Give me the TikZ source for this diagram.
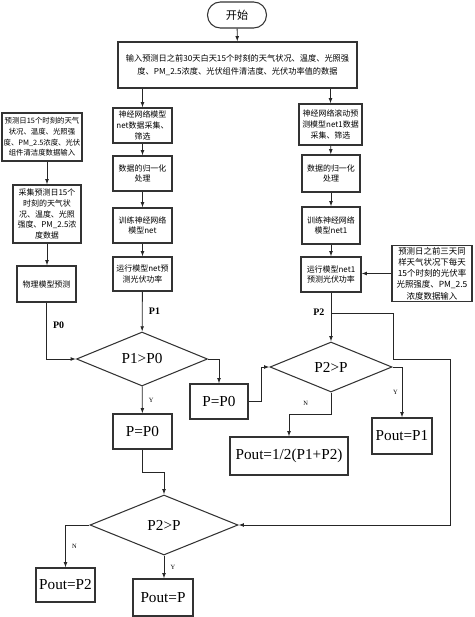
\documentclass[tikz,border=0pt]{standalone}
\usepackage{fontspec}
\setmainfont{Liberation Serif}
\newfontfamily\cjk{Noto Sans CJK SC}
\usetikzlibrary{arrows.meta,shapes.geometric}
\tikzset{
    box/.style={draw=black!80, line width=0.9pt, align=center, inner sep=1pt, font=\cjk\fontsize{6.8}{9.2}\selectfont},
    outbox/.style={draw=black!80, line width=0.9pt, inner sep=1pt, font=\fontsize{13}{15}\selectfont},
    dec/.style={diamond, draw=black!80, line width=0.9pt, inner sep=0pt, font=\fontsize{13}{15}\selectfont},
    plbl/.style={font=\bfseries\fontsize{8.5}{10}\selectfont},
    yn/.style={font=\fontsize{5.5}{6}\selectfont},
}

\begin{document}
\begin{tikzpicture}[x=0.03cm, y=-0.03cm, >={Latex[length=4.5pt,width=3.2pt]}, line width=0.7pt, draw=black!85]
                \useasboundingbox (0,0) rectangle (474,617);

                \node[draw=black!80, line width=0.9pt, rounded corners=11pt, minimum width=1.77cm, minimum height=0.78cm, font=\cjk\fontsize{9.5}{11}\selectfont] (start) at (237,15) {开始};
                \node[box, minimum width=7.17cm, minimum height=1.38cm, font=\cjk\fontsize{7}{10.5}\selectfont] (input) at (237.5,65) {输入预测日之前30天白天15个时刻的天气状况、温度、光照强\\度、PM\_2.5浓度、光伏组件清洁度、光伏功率值的数据};

                \node[box, minimum width=1.77cm, minimum height=1.05cm] (nA1) at (142.5,125.5) {神经网络模型\\net数据采集、\\筛选};
                \node[box, minimum width=1.77cm, minimum height=1.05cm] (nA2) at (142.5,173.5) {数据的归一化\\处理};
                \node[box, minimum width=1.77cm, minimum height=1.05cm] (nA3) at (142.5,225.5) {训练神经网络\\模型net};
                \node[box, minimum width=1.77cm, minimum height=1.02cm] (nA4) at (142.5,274) {运行模型net预\\测光伏功率};

                \node[box, minimum width=1.89cm, minimum height=1.23cm] (nB1) at (330.5,124.5) {神经网络滚动预\\测模型net1数据\\采集、筛选};
                \node[box, minimum width=1.74cm, minimum height=1.11cm] (nB2) at (331,173.5) {数据的归一化\\处理};
                \node[box, minimum width=1.74cm, minimum height=1.11cm] (nB3) at (331,225.5) {训练神经网络\\模型net1};
                \node[box, minimum width=1.8cm, minimum height=1.05cm] (nB4) at (331,274.5) {运行模型net1\\预测光伏功率};
                \node[box, minimum width=2.4cm, minimum height=1.59cm, font=\cjk\fontsize{7.2}{9.6}\selectfont] (inR) at (432,273.5) {预测日之前三天同\\样天气状况下每天\\15个时刻的光伏率\\光照强度、PM\_2.5\\浓度数据输入};

                \node[box, minimum width=2.4cm, minimum height=1.44cm, font=\cjk\fontsize{6.3}{9}\selectfont] (inL1) at (42,137) {预测日15个时刻的天气\\状况、温度、光照强\\度、PM\_2.5浓度、光伏\\组件清洁度数据输入};
                \node[box, minimum width=2.04cm, minimum height=1.74cm] (inL2) at (47,214) {采集预测日15个\\时刻的天气状\\况、温度、光照\\强度、PM\_2.5浓\\度数据};
                \node[box, minimum width=1.77cm, minimum height=1.08cm] (inL3) at (46.5,284) {物理模型预测};

                \node[dec, minimum width=3.93cm, minimum height=1.62cm] (d1) at (142,359) {P1>P0};
                \node[outbox, minimum width=1.74cm, minimum height=1.05cm] (p0R) at (219,401.5) {P=P0};
                \node[outbox, minimum width=1.77cm, minimum height=1.05cm] (p0L) at (142.5,431.5) {P=P0};
                \node[dec, minimum width=3.66cm, minimum height=1.5cm] (d3) at (331,367) {P2>P};
                \node[outbox, minimum width=1.8cm, minimum height=1.08cm] (outP1) at (402,436) {Pout=P1};
                \node[outbox, minimum width=3.54cm, minimum height=1.14cm] (outAvg) at (289,456) {Pout=1/2(P1+P2)};
                \node[dec, minimum width=4.44cm, minimum height=1.8cm] (d2) at (164,525) {P2>P};
                \node[outbox, minimum width=1.77cm, minimum height=1.02cm] (outP2) at (65.5,585) {Pout=P2};
                \node[outbox, minimum width=1.8cm, minimum height=1.11cm] (outP) at (163,597.5) {Pout=P};

                \coordinate (b2) at (331,313);

                \draw[->] (start) -- (input);
                \draw[->] (input.south -| nA1) -- (nA1);
                \draw[->] (input.south -| nB1) -- (nB1);
                \draw[->] (nA1) -- (nA2);
                \draw[->] (nA2) -- (nA3);
                \draw[->] (nA3) -- (nA4);
                \draw[->] (nB1) -- (nB2);
                \draw[->] (nB2) -- (nB3);
                \draw[->] (nB3) -- (nB4);
                \draw[->] (inR) -- (inR -| nB4.east);
                \draw[->] (inL1.south -| inL2) -- (inL2);
                \draw[->] (inL2) -- (inL2 |- inL3.north);

                \draw[->] (inL3) |- (d1.west) node[pos=0.2, right, plbl, xshift=2pt]{P0};
                \draw[->] (nA4) -- (d1) node[pos=0.5, right, plbl, xshift=2pt]{P1};
                \draw[->] (nB4) -- (d3) node[pos=0.4, left, plbl, xshift=-2pt]{P2};
                \draw[->] (b2) -- ++(62,0) |- (450,359) |- (d2.east);

                \draw[->] (d1) -- (p0L) node[midway, right, yn, xshift=2pt]{Y};
                \draw[->] (d1.east) -| (p0R);
                \draw[->] (p0R.east) -- ++(13,0) |- (d3.west);
                \draw[->] (d3.east) -| (outP1) node[pos=0.75, left, yn]{Y};
                \draw[->] (d3.south) -- ++(0,22) node[midway, left=16pt, yn]{N} -| (outAvg);
                \draw[->] (p0L.south) -- ++(0,23) -| (d2.north);
                \draw[->] (d2.west) -| (outP2) node[pos=0.75, right, yn, xshift=2pt]{N};
                \draw[->] (d2.south) -- (d2.south |- outP.north) node[midway, right, yn, xshift=2pt]{Y};
            \end{tikzpicture}
\end{document}
